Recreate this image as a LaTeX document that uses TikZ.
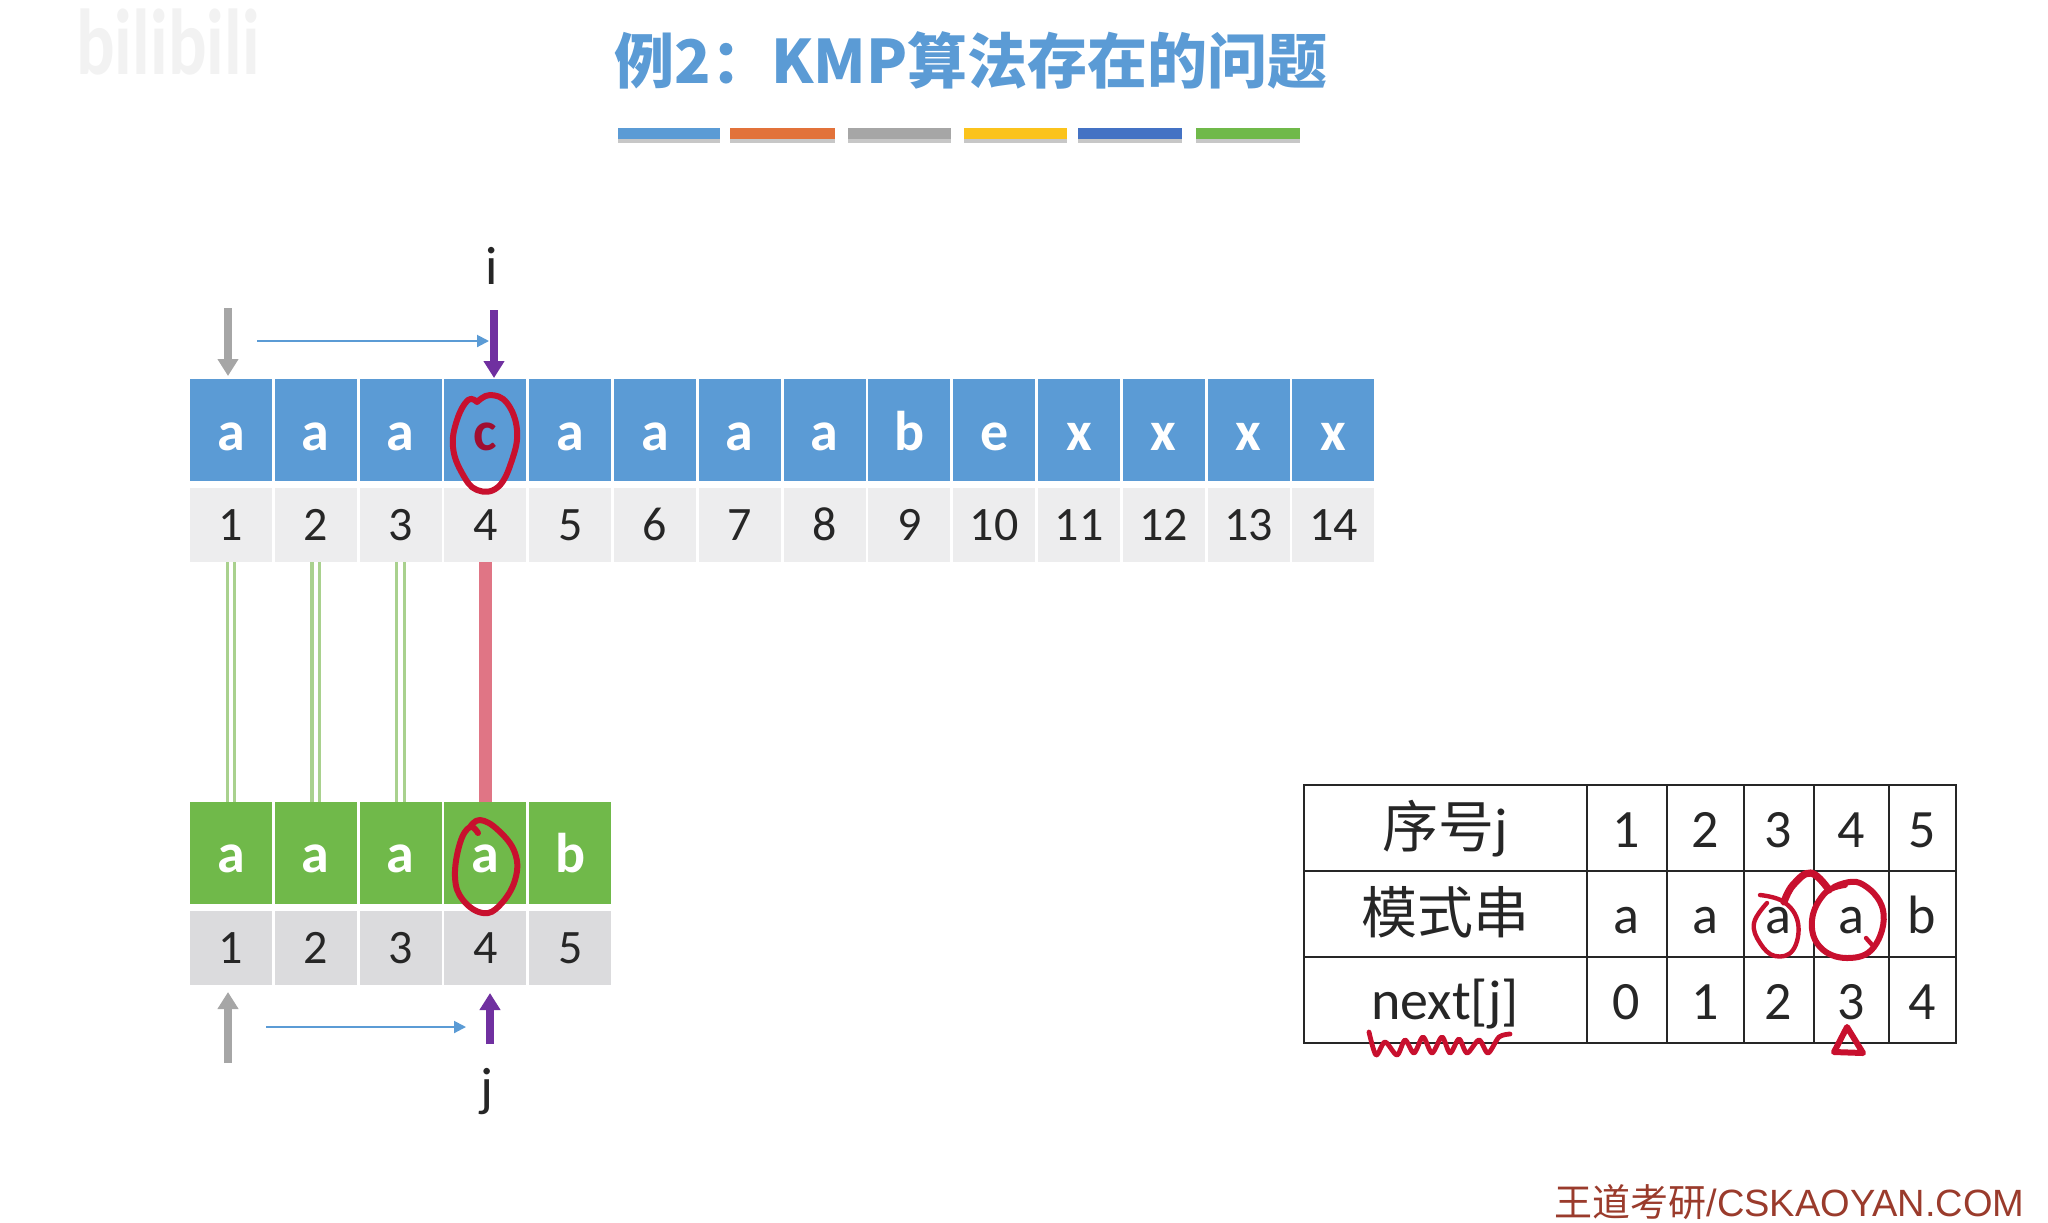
\documentclass[tikz,border=0pt]{standalone}
\usepackage{fontspec}
\setmainfont{Carlito}
\newfontfamily\cjk{Noto Sans CJK SC}
\newfontfamily\arial{Liberation Sans}
\usetikzlibrary{arrows.meta}
\definecolor{strblue}{HTML}{5B9BD5}
\definecolor{barorange}{HTML}{E2723A}
\definecolor{baryellow}{HTML}{FBC31C}
\definecolor{barblue}{HTML}{4472C4}
\definecolor{patgreen}{HTML}{70B94A}
\definecolor{lightgreen}{HTML}{A9D18E}
\definecolor{idxlight}{HTML}{EDEDEE}
\definecolor{idxdark}{HTML}{DBDBDD}
\definecolor{ptrgray}{HTML}{A6A6A6}
\definecolor{ptrpurple}{HTML}{7030A0}
\definecolor{penred}{HTML}{C8102E}
\definecolor{mismatch}{HTML}{E07585}
\definecolor{darkc}{HTML}{A00D30}
\definecolor{inkblack}{HTML}{262626}
\definecolor{footred}{HTML}{9A3B2C}
\tikzset{
  cell/.style={inner sep=0pt, minimum width=41pt, minimum height=51pt},
  strcell/.style={cell, fill=strblue, font=\fontsize{28}{28}\selectfont\bfseries, text height=20pt, text depth=0pt},
  patcell/.style={cell, fill=patgreen, font=\fontsize{28}{28}\selectfont\bfseries, text=white, text height=19pt, text depth=0pt},
  idxcell/.style={inner sep=0pt, minimum width=41pt, minimum height=37pt, text=inkblack,
    font=\fontsize{24}{24}\selectfont, text height=15pt, text depth=0pt},
  tabtext/.style={inner sep=0pt, text=inkblack, font=\fontsize{27}{27}\selectfont, text height=19pt, text depth=0pt},
  rowtext/.style={tabtext, font=\fontsize{28}{28}\selectfont},
  ptrgrayline/.style={ptrgray, line width=4pt, -{Triangle[width=10pt,length=8.5pt]}},
  ptrpurpleline/.style={ptrpurple, line width=4pt, -{Triangle[width=10pt,length=8.5pt]}},
  moveline/.style={strblue, line width=1pt, -{Triangle[width=6pt,length=6pt]}},
  okline/.style={lightgreen, double=white, line width=1.6pt, double distance=2.2pt},
  pen/.style={penred, line width=3pt, line cap=round, line join=round}
}
\begin{document}
\begin{tikzpicture}[x=0.5pt, y=-0.5pt]
  \useasboundingbox (0,0) rectangle (2048,1222);
  % Watermark
  \node[text=black!5, font=\fontsize{36}{36}\selectfont\bfseries, inner sep=0pt, yscale=1.3] (mark) at (168,42) {bilibili};
  % Title and colour bars
  \node[text=strblue, font=\cjk\fontsize{30}{30}\selectfont\bfseries, inner sep=0pt] (title) at (971,60) {例2^^^^ff1aKMP算法存在的问题};
  \foreach \xa/\xb/\col in {618/720/strblue, 730/835/barorange, 848/951/ptrgray, 964/1067/baryellow, 1078/1182/barblue, 1196/1300/patgreen} {
    \fill[black!22] (\xa,138) rectangle (\xb,143);
    \fill[\col] (\xa,128) rectangle (\xb,139);
  }
  % Main string with index row
  \foreach \c/\tc [count=\k] in {a/white, a/white, a/white, c/darkc, a/white, a/white, a/white, a/white, b/white, e/white, x/white, x/white, x/white, x/white} {
    \node[strcell, text=\tc] (s\k) at ({231+(\k-1)*84.8},430) {\c};
    \node[idxcell, fill=idxlight] (n\k) at ({231+(\k-1)*84.8},525) {\k};
  }
  % Pattern with index row
  \foreach \c [count=\k] in {a, a, a, a, b} {
    \node[patcell] (p\k) at ({231+(\k-1)*84.8},853) {\c};
    \node[idxcell, fill=idxdark] (m\k) at ({231+(\k-1)*84.8},948) {\k};
  }
  % Comparison lines
  \foreach \k in {1, 2, 3} {
    \draw[okline] (n\k.south) -- (p\k.north);
  }
  \draw[mismatch, line width=6.5pt, xshift=1pt] (n4.south) -- (p4.north);
  % Pointer i
  \node[text=inkblack, font=\fontsize{27}{27}\selectfont, inner sep=0pt] (ilabel) at (492,266) {i};
  \coordinate (ioldtop) at (228,308);
  \coordinate (ioldtip) at (228,376);
  \coordinate (inewtop) at (494,310);
  \coordinate (inewtip) at (494,378);
  \coordinate (imovea) at (257,341);
  \coordinate (imoveb) at (489,341);
  \draw[ptrgrayline] (ioldtop) -- (ioldtip);
  \draw[ptrpurpleline] (inewtop) -- (inewtip);
  \draw[moveline] (imovea) -- (imoveb);
  % Pointer j
  \node[text=inkblack, font=\fontsize{27}{27}\selectfont, inner sep=0pt] (jlabel) at (487,1092) {j};
  \coordinate (joldtop) at (228,1063);
  \coordinate (joldtip) at (228,992);
  \coordinate (jnewtop) at (490,1044);
  \coordinate (jnewtip) at (490,993);
  \coordinate (jmovea) at (266,1027);
  \coordinate (jmoveb) at (466,1027);
  \draw[ptrgrayline] (joldtop) -- (joldtip);
  \draw[ptrpurpleline] (jnewtop) -- (jnewtip);
  \draw[moveline] (jmovea) -- (jmoveb);
  % Next table
  \draw[inkblack, line width=1pt] (1304,785) rectangle (1956,1043);
  \foreach \y in {871, 957} {
    \draw[inkblack, line width=1pt] (1304,\y) -- (1956,\y);
  }
  \foreach \x in {1587, 1667, 1744, 1814, 1889} {
    \draw[inkblack, line width=0.8pt] (\x,785) -- (\x,1043);
  }
  \node[rowtext] (rowa) at (1445,828) {{\cjk 序号}j};
  \node[rowtext] (rowb) at (1445,914) {\cjk 模式串};
  \node[rowtext] (rowc) at (1445,1000) {next[j]};
  \foreach \x/\ja/\pa/\na [count=\k] in {1626/1/a/0, 1705/2/a/1, 1778/3/a/2, 1851/4/a/3, 1922/5/b/4} {
    \node[tabtext] (ja\k) at (\x,828) {\ja};
    \node[tabtext] (pa\k) at (\x,914) {\pa};
    \node[tabtext] (na\k) at (\x,1000) {\na};
  }
  % Red pen marks
  \draw[pen] plot[smooth, tension=0.7] coordinates {(477,402) (490,395) (507,403) (517,430) (512,460) (498,487) (477,490) (462,473) (453,447) (457,420) (468,400) (477,402)};
  \draw[pen] plot[smooth, tension=0.7] coordinates {(470,827) (480,820) (498,830) (515,853) (515,880) (500,905) (483,913) (463,900) (455,877) (460,843) (470,827) (478,833)};
  \draw[pen, line width=2.2pt] plot[smooth, tension=0.7] coordinates {(1760,895) (1784,902) (1798,923) (1793,950) (1775,956) (1760,943) (1754,923) (1767,903)};
  \draw[pen, line width=3.6pt] plot[smooth, tension=0.7] coordinates {(1784,902) (1793,885) (1811,873) (1829,890)};
  \draw[pen] plot[smooth, tension=0.7] coordinates {(1834,887) (1860,883) (1883,910) (1874,947) (1847,958) (1820,947) (1812,920) (1825,893) (1845,885)};
  \draw[pen, line width=2.2pt] (1874,947) -- (1866,938);
  \draw[pen, line width=2.4pt] plot[tension=0.5, smooth] coordinates {(1369,1032) (1376,1055) (1385,1042) (1397,1055) (1405,1040) (1414,1053) (1423,1037) (1432,1053) (1442,1037) (1450,1053) (1459,1039) (1467,1053) (1479,1040) (1488,1053) (1499,1037) (1510,1034)};
  \draw[pen] (1847,1027) -- (1834,1052) -- (1863,1053) -- cycle;
  % Footer
  \node[text=footred, anchor=base east, inner sep=0pt, font=\arial\fontsize{19}{19}\selectfont] (foot) at (2025,1216) {{\cjk 王道考研}/CSKAOYAN.COM};
\end{tikzpicture}
\end{document}
